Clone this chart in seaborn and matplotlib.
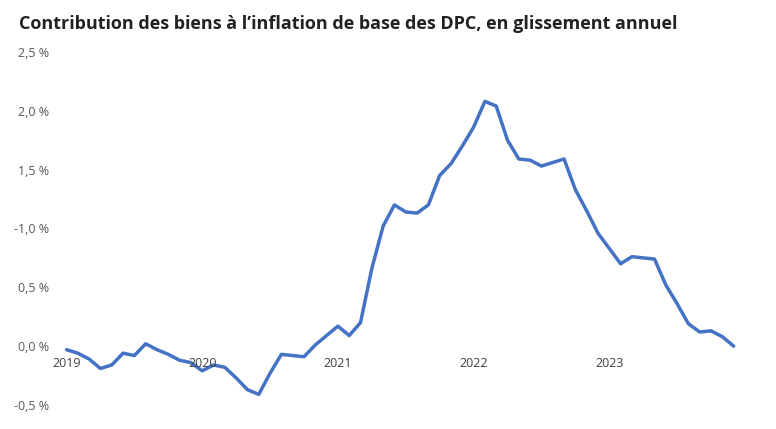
import matplotlib
matplotlib.use("Agg")
import matplotlib.pyplot as plt
import seaborn as sns
import pandas as pd

values = [-0.03,-0.06,-0.11,-0.19,-0.16,-0.06,-0.08,0.02,-0.03,-0.07,-0.12,-0.14,
          -0.21,-0.16,-0.18,-0.27,-0.37,-0.41,-0.23,-0.07,-0.08,-0.09,0.01,0.09,
          0.17,0.09,0.20,0.66,1.02,1.20,1.14,1.13,1.20,1.45,1.55,1.70,
          1.86,2.08,2.04,1.75,1.59,1.58,1.53,1.56,1.59,1.33,1.15,0.96,
          0.83,0.70,0.76,0.75,0.74,0.52,0.36,0.19,0.12,0.13,0.08,0.0]
years = ["2019","2020","2021","2022","2023"]
yticks = [-0.5,0.0,0.5,1.0,1.5,2.0,2.5]
ylabels = ["-0,5 %","0,0 %","0,5 %","-1,0 %","1,5 %","2,0 %","2,5 %"]
title = "Contribution des biens à l’inflation de base des DPC, en glissement annuel"

sns.set_style("white")
plt.rcParams['font.family'] = ['Open Sans', 'DejaVu Sans']
fig = plt.figure(figsize=(7.76,4.29), dpi=100)
ax = fig.add_axes([0.077,0.056,0.883,0.823])
df = pd.DataFrame({"i": range(len(values)), "v": values})
sns.lineplot(data=df, x="i", y="v", ax=ax, color="#4472C4", linewidth=2.5)
ax.set_ylim(-0.5,2.5)
ax.set_xlim(-0.6,60.0)
ax.set_yticks(yticks)
ax.set_yticklabels(ylabels, fontsize=9, color="#595959")
ax.set_xticks([])
ax.set_xlabel(""); ax.set_ylabel("")
for s in ax.spines.values():
    s.set_visible(False)
ax.tick_params(axis='y', length=0, pad=8)
for k, y in enumerate(years):
    ax.text(k*12, -0.15, y, ha="center", va="center", fontsize=9, color="#404040")
fig.text(0.025, 0.945, title, fontsize=13, fontweight="bold", color="#222222", va="center")
fig.savefig("out.png", dpi=100)
